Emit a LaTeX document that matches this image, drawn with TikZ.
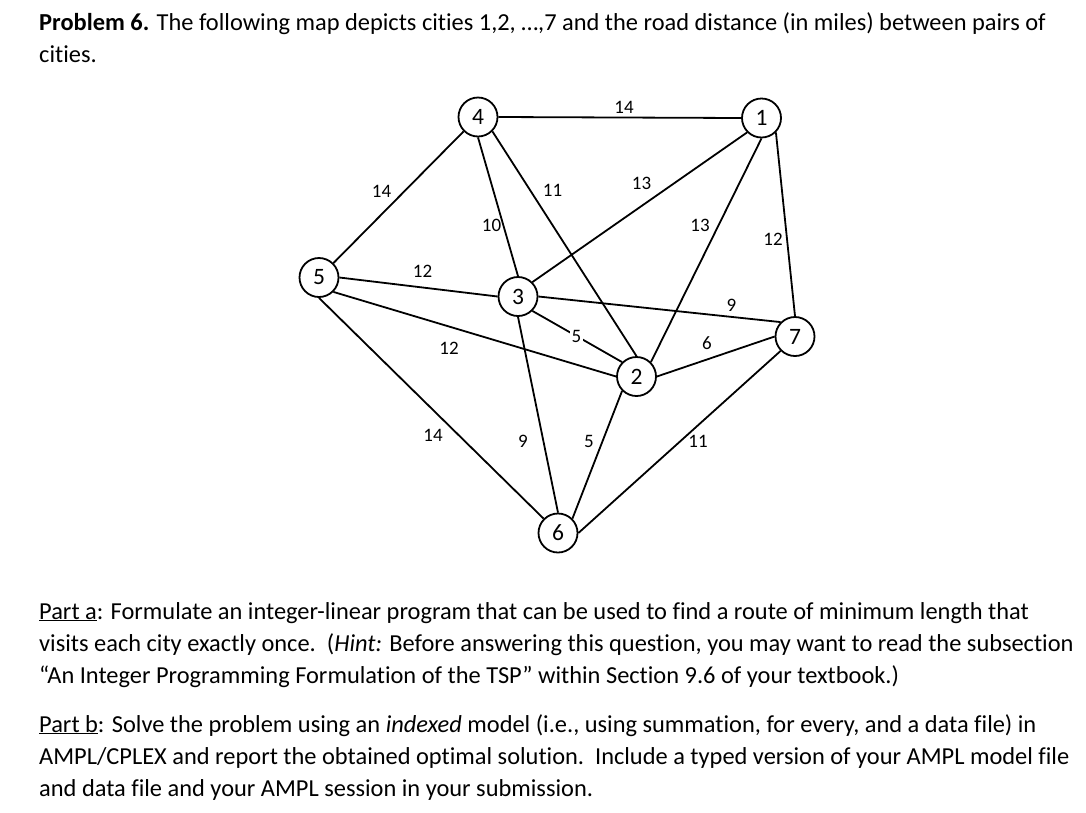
\documentclass[tikz,border=0pt]{standalone}
\usepackage{fontspec}
\setmainfont[Ligatures={TeX,NoCommon}]{Carlito}
\usepackage{tikz}
\usetikzlibrary{positioning}
\tikzset{
  city/.style={circle, draw=black, line width=1.8pt, fill=white, minimum size=39pt, inner sep=0pt, font=\fontsize{23.5}{26}\selectfont},
  road/.style={line width=1.8pt},
  dist/.style={inner sep=1pt, font=\fontsize{19}{22}\selectfont},
  distcut/.style={dist, fill=white, inner sep=2pt},
  para/.style={anchor=base west, inner sep=0pt, font=\fontsize{24.4}{32}\selectfont},
}

\begin{document}
\begin{tikzpicture}[x=1pt, y=-1pt]
\useasboundingbox (0,0) rectangle (1086,812);
% statement
\node[para] (t1) at (39,30) {\textbf{Problem 6.} The following map depicts cities 1,2, …,7 and the road distance (in miles) between pairs of};
\node[para] (t2) at (39,62) {cities.};
% cities
\node[city] (c4) at (478,117)   {4};
\node[city] (c1) at (761.5,118) {1};
\node[city] (c5) at (319,277.5) {5};
\node[city] (c3) at (518,296.5) {3};
\node[city] (c7) at (795,336.5) {7};
\node[city] (c2) at (636.5,376.5) {2};
\node[city] (c6) at (558,533)   {6};
% roads
\draw[road] (c4.east) -- (c1.west);
\draw[road] (c4.south west) -- (c5.north east);
\draw[road] (c4.south) -- (c3.north);
\draw[road] (c4.south east) -- (c2.north);
\draw[road] (c1.south west) -- (c3.north east);
\draw[road] (c1.south) -- (c2.north east);
\draw[road] (c1.south east) -- (c7.north);
\draw[road] (c5.east) -- (c3.west);
\draw[road] (c5.south east) -- (c2.west);
\draw[road] (c5.south) -- (c6.north west);
\draw[road] (c3.east) -- (c7.north west);
\draw[road] (c3.south east) -- (c2.north west);
\draw[road] (c3.south) -- (c6.north);
\draw[road] (c2.east) -- (c7.west);
\draw[road] (c2.south west) -- (c6.north east);
\draw[road] (c6.east) -- (c7.south west);
% distances
\node[dist] (d41) at (624,107)   {14};
\node[dist] (d45) at (381.5,191.5) {14};
\node[dist] (d42) at (552.5,190) {11};
\node[dist] (d13) at (641.5,183) {13};
\node[dist] (d43) at (491.5,225) {10};
\node[dist] (d12) at (700,225)   {13};
\node[dist] (d17) at (773,239)   {12};
\node[dist] (d53) at (422.5,271) {12};
\node[dist] (d37) at (731.5,305) {9};
\node[distcut] (d32) at (576.5,336.5) {5};
\node[dist] (d27) at (707,343)   {6};
\node[dist] (d52) at (449,348)   {12};
\node[dist] (d56) at (433,435)   {14};
\node[dist] (d36) at (523,441.5) {9};
\node[dist] (d26) at (589,441.5) {5};
\node[dist] (d67) at (698,441.5) {11};
% parts
\node[para] (a1) at (39,619) {\underline{Part a}: Formulate an integer-linear program that can be used to find a route of minimum length that};
\node[para] (a2) at (39,651) {visits each city exactly once.\ \ (\emph{Hint:} Before answering this question, you may want to read the subsection};
\node[para] (a3) at (39,683) {“An Integer Programming Formulation of the TSP” within Section 9.6 of your textbook.)};
\node[para] (b1) at (39,732) {\underline{Part b}: Solve the problem using an \emph{indexed} model (i.e., using summation, for every, and a data file) in};
\node[para] (b2) at (39,764) {AMPL/CPLEX and report the obtained optimal solution.\ \ Include a typed version of your AMPL model file};
\node[para] (b3) at (39,796) {and data file and your AMPL session in your submission.};
\end{tikzpicture}
\end{document}
